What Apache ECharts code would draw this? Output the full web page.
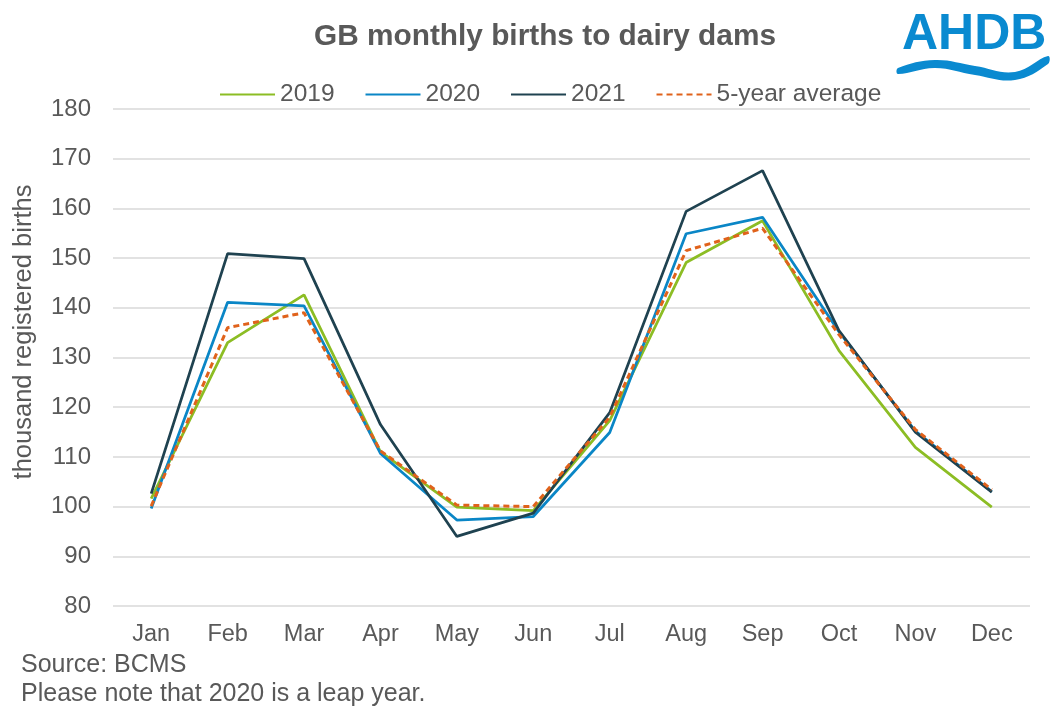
<!DOCTYPE html>
<html><head><meta charset="utf-8">
<script src="https://cdn.jsdelivr.net/npm/echarts@6/dist/echarts.min.js"></script>
<style>html,body{margin:0;padding:0;background:#fff}#c{width:1063px;height:715px}</style>
</head><body><div id="c"></div>
<script>
const months = ['Jan','Feb','Mar','Apr','May','Jun','Jul','Aug','Sep','Oct','Nov','Dec'];
const y2019 = [101.6,133.0,142.6,111.0,99.9,99.2,117.3,149.1,157.5,131.4,111.9,99.9];
const y2020 = [99.6,141.1,140.4,110.7,97.3,98.0,114.9,154.9,158.2,135.2,115.2,103.0];
const y2021 = [102.6,150.9,149.9,116.5,94.0,98.7,118.9,159.4,167.6,135.4,115.0,102.9];
const avg5 = [100.1,136.0,139.0,111.2,100.3,100.0,118.0,151.5,156.0,134.6,115.5,103.4];
const yTicks = {min:80,max:180,interval:10};

const font = 'Liberation Sans, Arial, sans-serif';
const grey = '#595959';
const chart = echarts.init(document.getElementById('c'));
function s(name, data, color, dashed){
  return {name, type:'line', data, symbol:'none', smooth:false,
    lineStyle:{color, width:dashed?3:2.75, type:dashed?[6,4]:'solid'}, itemStyle:{color}};
}
chart.setOption({
  animation:false,
  title:{text:'GB monthly births to dairy dams', left:540, textAlign:'center', top:17,
    textStyle:{fontFamily:font, fontSize:29.8, fontWeight:'bold', color:grey}},
  legend:{top:77, left:214, itemWidth:55, itemHeight:3, itemGap:30,
    itemStyle:{opacity:0},
    textStyle:{fontFamily:font, fontSize:24.5, color:grey},
    data:['2019','2020','2021','5-year average']},
  grid:{left:113, right:33, top:109, bottom:109},
  xAxis:{type:'category', data:months, boundaryGap:true,
    axisLine:{show:false}, axisTick:{show:false},
    axisLabel:{fontFamily:font, fontSize:23.5, color:grey, margin:17}},
  yAxis:{type:'value', min:yTicks.min, max:yTicks.max, interval:yTicks.interval,
    axisLabel:{fontFamily:font, fontSize:24, color:grey, margin:22},
    splitLine:{lineStyle:{color:'#d9d9d9', width:1.5}}},
  series:[
    s('2019', y2019, '#8cbd24'),
    s('2020', y2020, '#0a86c6'),
    s('2021', y2021, '#1f4250'),
    s('5-year average', avg5, '#e0621b', true)
  ],
  graphic:[
    {type:'text', x:24, y:332, rotation:Math.PI/2,
      style:{text:'thousand registered births', font:'25.5px '+font, fill:grey, align:'center', verticalAlign:'middle'}},
    {type:'text', left:21, top:653, style:{text:'Source: BCMS', font:'25px '+font, fill:grey}},
    {type:'text', left:21, top:682, style:{text:'Please note that 2020 is a leap year.', font:'25px '+font, fill:grey}},
    {type:'text', left:902, top:10, style:{text:'AHDB', font:'bold 50px '+font, fill:'#0a8ad0'}},
    {type:'polygon', shape:{smooth:0.4, points:[[898,68],[935,60],[975,66],[1015,72],[1048,56],[1048,64],[1015,80],[975,75],[935,68],[898,74]]},
      style:{fill:'#0a8ad0'}}
  ]
});
</script></body></html>
